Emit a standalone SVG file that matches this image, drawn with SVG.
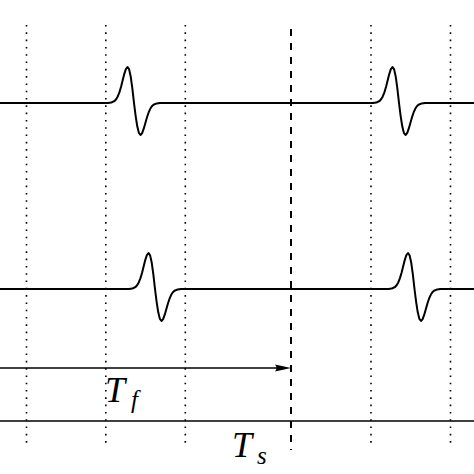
<svg xmlns="http://www.w3.org/2000/svg" xmlns:xlink="http://www.w3.org/1999/xlink" width="474" height="474" viewBox="0 0 474 474">
<style>
.dot{stroke:#000;stroke-width:1.6;stroke-dasharray:1.6 5.7;fill:none}
.dash{stroke:#000;stroke-width:2;stroke-dasharray:7 7;fill:none}
.sig{stroke:#000;stroke-width:2;fill:none;stroke-linejoin:round;stroke-linecap:round}
.ln{stroke:#000;fill:none}
.lbl{font-family:"Liberation Serif","DejaVu Serif",serif;font-style:italic;fill:#000}
</style>
<defs>
<polyline id="pulse" points="-26,0 -22.75,-0.45 -19.5,-1.98 -17.875,-3.72 -16.25,-6.52 -14.625,-10.63 -13,-16.07 -11.375,-22.47 -9.75,-28.9 -8.125,-33.97 -6.5,-36 -4.875,-33.6 -3.25,-26.19 -1.625,-14.38 0,0 1.625,12.78 3.25,23.28 4.875,29.87 6.5,32 8.125,30.19 9.75,25.69 11.375,19.97 13,14.28 14.625,9.45 16.25,5.8 17.875,3.31 19.5,1.76 22.75,0.4 26,0"/>
</defs>
<g id="grid">
<line class="dot" x1="26.5" y1="25" x2="26.5" y2="446"/>
<line class="dot" x1="105.8" y1="25" x2="105.8" y2="446"/>
<line class="dot" x1="185.3" y1="25" x2="185.3" y2="446"/>
<line class="dot" x1="371" y1="25" x2="371" y2="446"/>
<line class="dot" x1="450.5" y1="25" x2="450.5" y2="446"/>
<line class="dash" x1="291" y1="29" x2="291" y2="450"/>
</g>
<g id="signal1">
<path class="sig" d="M-2,103 H108 M160,103 H373 M425,103 H476"/>
<use xlink:href="#pulse" class="sig" transform="translate(134,103)"/>
<use xlink:href="#pulse" class="sig" transform="translate(399,103)"/>
</g>
<g id="signal2">
<path class="sig" d="M-2,289 H129 M181,289 H388.5 M440.5,289 H476"/>
<use xlink:href="#pulse" class="sig" transform="translate(155,289)"/>
<use xlink:href="#pulse" class="sig" transform="translate(414.5,289)"/>
</g>
<g id="connectors">
<line class="ln" stroke-width="1.5" x1="-2" y1="368" x2="280" y2="368"/>
<path d="M291,368 L275,364.5 Q278,368 275,371.5 Z" fill="#000"/>
<line class="ln" stroke-width="1.3" x1="-2" y1="421" x2="476" y2="421"/>
</g>
<g id="labels">
<text class="lbl" x="105" y="402" font-size="36">T</text>
<text class="lbl" x="131" y="408" font-size="25">f</text>
<text class="lbl" x="232" y="457" font-size="36">T</text>
<text class="lbl" x="257" y="464" font-size="25">s</text>
</g>
</svg>
